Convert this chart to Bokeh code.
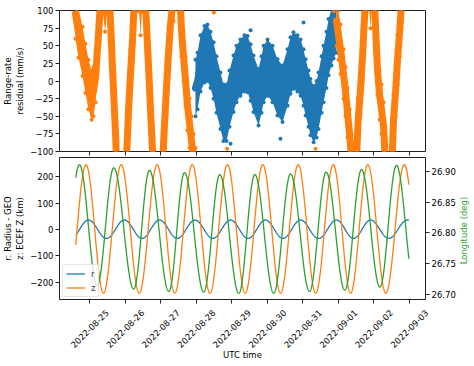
import math
import numpy as np
from bokeh.core.properties import value
from bokeh.embed import file_html
from bokeh.layouts import column, row
from bokeh.models import (CustomJSTickFormatter, FixedTicker, LinearAxis,
                          NumeralTickFormatter, Range1d)
from bokeh.plotting import figure
from bokeh.resources import INLINE

# ---------------------------------------------------------------- data
EPOCH = "2022-08-24T00:00:00"          # all "hours" below count from this UTC instant

x_tick_labels = ["2022-08-25", "2022-08-26", "2022-08-27", "2022-08-28", "2022-08-29",
                 "2022-08-30", "2022-08-31", "2022-09-01", "2022-09-02", "2022-09-03"]
rr_ticks = [-100, -75, -50, -25, 0, 25, 50, 75, 100]
km_ticks = [-200, -100, 0, 100, 200]
lon_ticks = [26.70, 26.75, 26.80, 26.85, 26.90]

x_view_hours = (3.73, 251.0)          # visible time window
rr_view = (-100, 100)
km_view = (-266, 273.5)
lon_view = (26.6918, 26.9228)

# --- top panel: range-rate residual point clouds (centre of cloud, mm/s)
rr_orange1_hours = [14.5, 16.6, 19.3, 21.3, 23.3, 25.4, 26.7, 28.1, 29.4, 30.8,
                    32.1, 34.5, 36.8, 38.5, 39.5, 40.6, 41.6, 42.9, 45.0, 47.0,
                    49.0, 50.4, 51.7, 53.1, 54.4, 56.4, 58.5, 60.5, 62.5, 63.9,
                    65.2, 66.6, 68.6, 70.6, 73.3, 74.7, 76.0, 77.4, 78.7, 80.8,
                    82.8, 84.8, 86.2, 87.5, 88.9, 90.2, 91.6, 92.9, 94.3, 95.6]
rr_orange1_mms = [95, 68, 42, 18, -5, -20, -15, 5, 45, 90,
                  150, 105, 150, 70, 20, -30, -75, -150, -230, -230,
                  -110, -40, 10, 60, 120, 170, 100, 170, 80, 20,
                  -40, -100, -200, -230, -120, -60, -10, 40, 80, 120,
                  150, 130, 70, 35, 0, -35, -60, -85, -110, -130]

rr_blue_hours = [95.6, 97.0, 99.0, 101.7, 103.7, 105.8, 107.8, 109.8, 112.5, 114.5,
                 116.6, 118.6, 121.3, 123.3, 126.0, 128.7, 130.8, 132.8, 134.8, 138.2,
                 140.2, 141.6, 144.3, 147.7, 151.0, 154.4, 157.8, 159.8, 161.8, 164.5,
                 166.6, 168.6, 170.0, 172.0, 173.3, 175.4, 177.4, 178.7, 180.8, 182.1,
                 184.1, 185.5, 187.5, 188.9, 190.9]
rr_blue_mms = [-10, 0, 25, 38, 40, 30, 15, -5, -28, -45,
               -45, -25, -4, 10, 19, 25, 24, 12, -4, -23,
               -5, 10, 19, 10, -9, -18, 5, 22, 29, 25,
               19, 5, -9, -25, -37, -47, -40, -28, -5, 10,
               30, 48, 62, 72, 80]

rr_orange2_hours = [190.9, 192.2, 193.6, 195.6, 197.0, 198.3, 199.7, 201.0, 202.7, 204.4,
                    205.4, 207.1, 208.5, 209.5, 211.2, 212.5, 213.9, 215.2, 216.6, 217.6,
                    218.6, 220.0, 221.3, 222.7, 224.0, 226.0, 228.1, 229.4, 230.8, 232.1,
                    233.5, 234.8, 235.8]
rr_orange2_mms = [85, 65, 45, 10, -15, -45, -75, -110, -160, -110,
                  -60, -11, 36, 79, 140, 150, 110, 150, 110, 60,
                  15, -20, -40, -65, -120, -170, -130, -55, -15, 30,
                  70, 110, 140]

rr_orange_spread = 35                  # half thickness of the orange cloud (mm/s)
rr_blue_spread = 40                    # half thickness of the blue cloud (mm/s)

rr_orange_outlier_hours = [108.0, 117.0, 176.7, 189.1]
rr_orange_outlier_mms = [97, -96, -96, 99]
rr_blue_outlier_hours = [119.3, 132.8, 153.0, 168.6]
rr_blue_outlier_mms = [-89, 72, -82, 83]

# --- bottom panel: successive extremes of each curve
curve_hours = (14.7, 239.8)            # time span of the orbit curves

r_ext_hours = [11.4, 23.3, 35.5, 47.6, 59.5, 71.3, 83.3, 95.3, 107.3, 119.3, 131.1,
               142.9, 154.7, 166.6, 178.7, 190.9, 202.4, 213.9, 226.2, 238.7, 250.4]
r_ext_km = [-34, 36, -34, 36, -34, 36, -34, 36, -34, 36, -34,
            36, -34, 36, -34, 36, -34, 36, -34, 36, -34]

z_ext_hours = [9.7, 21.6, 33.4, 45.4, 57.6, 69.7, 81.6, 93.4, 105.4, 117.2, 129.2,
               141.1, 153.1, 165.0, 176.8, 188.7, 200.4, 212.0, 224.2, 236.7, 248.7]
z_ext_km = [-242, 246, -242, 246, -242, 246, -242, 246, -242, 246, -242,
            246, -242, 246, -242, 246, -242, 246, -242, 246, -242]

lon_ext_hours = [5.4, 17.2, 29.2, 40.4, 53.9, 64.5, 77.6, 88.2, 101.2, 112.0, 124.9,
                 135.7, 148.5, 159.8, 172.7, 183.9, 196.5, 207.8, 220.2, 231.4, 243.6]
lon_ext_deg = [26.716, 26.911, 26.715, 26.906, 26.709, 26.902, 26.705, 26.898, 26.704,
               26.895, 26.702, 26.895, 26.702, 26.896, 26.705, 26.899, 26.707, 26.903,
               26.712, 26.910, 26.715]

# ---------------------------------------------------------------- layout / style
FONT = "DejaVu Sans"
FS = "8.5px"
BLUE, ORANGE, GREEN = "#1f77b4", "#ff7f0e", "#2ca02c"
MAIN_W, SIDE_W, CANVAS_H = 458, 16, 366
FRAME_LEFT, FRAME_W = 59, 366
FRAME_RIGHT_PAD = MAIN_W - FRAME_LEFT - FRAME_W
TOP_H, MID_H = 157, 148
BOT_H = CANVAS_H - TOP_H - MID_H

EPOCH_MS = float(np.datetime64(EPOCH, "ms").astype("int64"))


def hours_to_ms(h):
    return EPOCH_MS + np.asarray(h, dtype=float) * 3.6e6


def smooth(ext_h, ext_v, t):
    """Half-cosine path between successive extremes (sinusoid-like)."""
    ext_h = np.asarray(ext_h, float)
    ext_v = np.asarray(ext_v, float)
    i = np.clip(np.searchsorted(ext_h, t) - 1, 0, len(ext_h) - 2)
    s = (t - ext_h[i]) / (ext_h[i + 1] - ext_h[i])
    return ext_v[i] + (ext_v[i + 1] - ext_v[i]) * (1 - np.cos(np.pi * s)) / 2


tick_ms = [float(np.datetime64(s, "ms").astype("int64")) for s in x_tick_labels]
x_range = Range1d(*[float(v) for v in hours_to_ms(x_view_hours)])
px_per_h = FRAME_W / (x_view_hours[1] - x_view_hours[0])
label_hours = (x_view_hours[0] - FRAME_LEFT / px_per_h,
               x_view_hours[1] + FRAME_RIGHT_PAD / px_per_h)

minus_fmt = "return String(tick).replace('-', '\\u2212');"


def no_align(p):
    if "frame_align" in p.properties():
        p.frame_align = False


def style_fig(p):
    p.background_fill_color = "white"
    p.border_fill_color = "white"
    p.outline_line_color = "#222222"
    p.outline_line_width = 1
    p.grid.visible = False


def style_axis(ax):
    ax.axis_line_color = None
    ax.major_tick_line_color = "#222222"
    ax.major_tick_out = 4
    ax.major_tick_in = 0
    ax.minor_tick_line_color = None
    ax.major_label_text_font = FONT
    ax.major_label_text_font_size = FS
    ax.major_label_text_color = "black"
    ax.axis_label_text_font = FONT
    ax.axis_label_text_font_size = FS
    ax.axis_label_text_font_style = "normal"
    ax.axis_label_text_color = "black"
    ax.major_label_standoff = 2
    ax.axis_label_standoff = 2


def blank_x_axis(p):
    p.xaxis.ticker = FixedTicker(ticks=tick_ms)
    p.xaxis.formatter = CustomJSTickFormatter(code="return '';")
    p.xaxis.major_label_text_font_size = "0px"
    p.xaxis.major_label_standoff = 0


def bare_fig(width, height, xr, yr):
    p = figure(width=width, height=height, x_range=xr, y_range=yr,
               x_axis_location=None, y_axis_location=None,
               output_backend="svg", toolbar_location=None, min_border=0)
    p.min_border_left = p.min_border_right = p.min_border_top = p.min_border_bottom = 0
    p.outline_line_color = None
    p.background_fill_color = "white"
    p.border_fill_color = "white"
    p.grid.visible = False
    no_align(p)
    return p


# ---------------------------------------------------------------- top panel
p1 = figure(width=MAIN_W, height=TOP_H, x_axis_type="datetime", x_range=x_range,
            y_range=Range1d(*rr_view), output_backend="svg", toolbar_location=None,
            min_border_left=FRAME_LEFT, min_border_right=FRAME_RIGHT_PAD,
            min_border_top=10, min_border_bottom=6)
style_fig(p1)
for ax in p1.xaxis + p1.yaxis:
    style_axis(ax)
p1.yaxis.ticker = FixedTicker(ticks=rr_ticks)
p1.yaxis.formatter = CustomJSTickFormatter(code=minus_fmt)
p1.yaxis.axis_label = "Range-rate\nresidual (mm/s)"
blank_x_axis(p1)


def cloud(p, hours, vals, spread, color):
    t = hours_to_ms(hours)
    v = np.asarray(vals, dtype=float)
    p.varea(x=t, y1=v - spread, y2=v + spread, fill_color=color)
    p.line(x=t, y=v, line_width=7, line_color=color, line_join="round", line_cap="round")
    for y in (v - spread, v, v + spread):
        p.scatter(x=t, y=y, size=4, fill_color=color, line_color=None)


cloud(p1, rr_blue_hours, rr_blue_mms, rr_blue_spread, BLUE)
p1.scatter(x=hours_to_ms(rr_blue_outlier_hours), y=rr_blue_outlier_mms, size=4,
           fill_color=BLUE, line_color=None)
cloud(p1, rr_orange1_hours, rr_orange1_mms, rr_orange_spread, ORANGE)
cloud(p1, rr_orange2_hours, rr_orange2_mms, rr_orange_spread, ORANGE)
p1.scatter(x=hours_to_ms(rr_orange_outlier_hours), y=rr_orange_outlier_mms, size=4,
           fill_color=ORANGE, line_color=None)

# ---------------------------------------------------------------- bottom panel
p2 = figure(width=MAIN_W, height=MID_H, x_axis_type="datetime", x_range=x_range,
            y_range=Range1d(*km_view), output_backend="svg", toolbar_location=None,
            min_border_left=FRAME_LEFT, min_border_right=FRAME_RIGHT_PAD,
            min_border_top=0, min_border_bottom=6)
style_fig(p2)
p2.extra_y_ranges = {"lon": Range1d(*lon_view)}
for ax in p2.xaxis + p2.yaxis:
    style_axis(ax)
p2.yaxis.ticker = FixedTicker(ticks=km_ticks)
p2.yaxis.formatter = CustomJSTickFormatter(code=minus_fmt)
p2.yaxis.axis_label = "r: Radius - GEO\nz: ECEF Z (km)"
blank_x_axis(p2)

ax_r = LinearAxis(y_range_name="lon", ticker=FixedTicker(ticks=lon_ticks),
                  formatter=NumeralTickFormatter(format="0.00"))
style_axis(ax_r)
p2.add_layout(ax_r, "right")

t = np.arange(curve_hours[0], curve_hours[1] + 0.05, 0.1)
tx = hours_to_ms(t)
p2.line(tx, smooth(r_ext_hours, r_ext_km, t), color=BLUE, line_width=1.3, legend_label="r")
p2.line(tx, smooth(z_ext_hours, z_ext_km, t), color=ORANGE, line_width=1.3, legend_label="z")
# the longitude curve belongs to the twin axis, which is drawn over the legend
p2.line(tx, smooth(lon_ext_hours, lon_ext_deg, t), color=GREEN, line_width=1.3,
        y_range_name="lon", level="overlay")

lg = p2.legend[0]
lg.location = (3, 2)
lg.padding = 3
lg.spacing = 3
lg.margin = 0
lg.label_height = 11
lg.glyph_height = 11
lg.glyph_width = 19
lg.label_width = 4
lg.label_standoff = 6
lg.label_text_font = FONT
lg.label_text_font_size = FS
lg.border_line_color = "#cccccc"
lg.background_fill_alpha = 0.8
if "border_radius" in lg.properties():
    lg.border_radius = 2

# ---------------------------------------------------------------- date labels strip
p3 = bare_fig(MAIN_W, BOT_H, Range1d(*[float(v) for v in hours_to_ms(label_hours)]),
              Range1d(BOT_H, 0))
p3.text(x=tick_ms, y=[23] * len(tick_ms), text=x_tick_labels, angle=math.pi / 4,
        text_align="center", text_baseline="middle", text_font=value(FONT),
        text_font_size=value(FS), text_color="black")
p3.text(x=[float(hours_to_ms(sum(x_view_hours) / 2))], y=[49], text=["UTC time"],
        text_align="center", text_baseline="middle", text_font=value(FONT),
        text_font_size=value(FS), text_color="black")

# ---------------------------------------------------------------- right axis title strip
p4 = bare_fig(SIDE_W, CANVAS_H, Range1d(0, SIDE_W), Range1d(CANVAS_H, 0))
p4.text(x=[5], y=[TOP_H + 73], text=["Longitude (deg)"], angle=math.pi / 2,
        text_align="center", text_baseline="middle", text_font=value(FONT),
        text_font_size=value(FS), text_color=GREEN)

layout = row(column(p1, p2, p3), p4)
with open("out.html", "w") as f:
    f.write(file_html(layout, INLINE, title="chart"))
